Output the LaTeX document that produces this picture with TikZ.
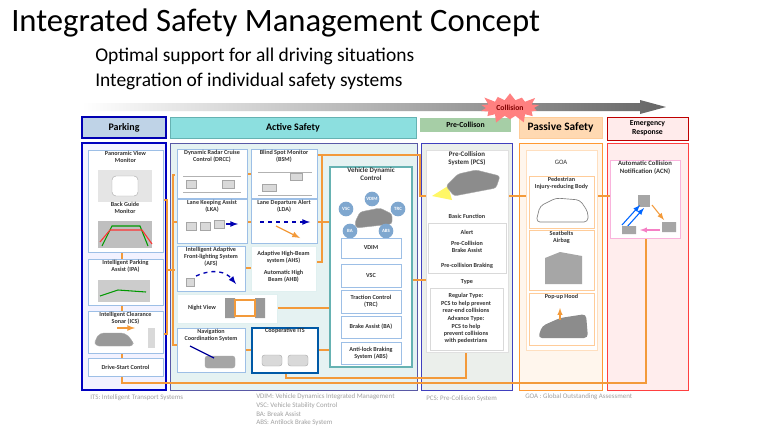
\documentclass[tikz,border=0pt]{standalone}
\usepackage{fontspec}
\setmainfont{Carlito}
\usetikzlibrary{fit,shapes.symbols,shapes.geometric}
\definecolor{orl}{HTML}{F39A3A}
\definecolor{ibx}{HTML}{9DBFE6}
\definecolor{ftg}{HTML}{A0A0A0}
\definecolor{cbl}{HTML}{7FA7CF}
\tikzset{
 fb/.style={fit={#1},inner sep=0pt,draw=ibx,line width=0.6pt,fill=white},
 lbl/.style={font=\bfseries\fontsize{4.6}{5.4}\selectfont,align=center,text=black!80,inner sep=1pt},
 hdr/.style={font=\bfseries\fontsize{7.5}{8.5}\selectfont,align=center},
 con/.style={draw=orl,line width=1.6pt},
 circ/.style={circle,fill=cbl,text=white,font=\bfseries\fontsize{3.6}{4}\selectfont,minimum size=11pt,inner sep=0pt},
 pic/.style={fill=black!15,draw=black!35,line width=0.3pt},
 foot/.style={font=\fontsize{5.2}{6}\selectfont,text=ftg,anchor=west,inner sep=0pt},
}
\begin{document}
\begin{tikzpicture}[x=0.75pt,y=-0.75pt]
\useasboundingbox (0,0) rectangle (768,432);
\fill[white] (0,0) rectangle (768,432);
% titles
\node[anchor=west,font=\fontsize{24.5}{26}\selectfont,inner sep=0] (title) at (11,23) {Integrated Safety Management Concept};
\node[anchor=west,font=\fontsize{14.6}{16}\selectfont,inner sep=0] (sub1) at (95,56) {Optimal support for all driving situations};
\node[anchor=west,font=\fontsize{14.6}{16}\selectfont,inner sep=0] (sub2) at (95,81) {Integration of individual safety systems};
% arrow bar
\shade[left color=white,right color=black!60] (82,103) -- (640,103) -- (640,100) -- (666,107) -- (640,114) -- (640,111) -- (82,111) -- cycle;
% headers
\node[fit={(82,117)(166,138)},inner sep=0,draw=blue!70!black,line width=0.8pt,fill=cbl!50] (hpark) {};
\node[hdr] at (hpark) {Parking};
\node[fit={(170,117)(416,138)},inner sep=0,draw=teal!60,fill=teal!55!cyan!45] (hact) {};
\node[hdr] at (hact) {Active Safety};
\node[fit={(519,117)(602,138)},inner sep=0,draw=orange!40,fill=orange!30] (hpas) {};
\node[hdr,font=\bfseries\fontsize{8.5}{9.5}\selectfont] at (hpas) {Passive Safety};
\node[fit={(419,117)(512,133)},inner sep=0,draw=white,line width=1pt,fill=green!45!black!35!white] (hpre) {};
\node[hdr,font=\bfseries\fontsize{5.8}{6.5}\selectfont] at (hpre) {Pre-Collison};
\node[fit={(607,117)(688,140)},inner sep=0,draw=red!75!black,line width=0.7pt,fill=red!8] (hemg) {};
\node[hdr,font=\bfseries\fontsize{5.8}{6.8}\selectfont] at (hemg) {Emergency\\Response};
\node[starburst,starburst points=14,starburst point height=7pt,fill=red!50!pink!80,draw=none,minimum width=50pt,minimum height=26pt,font=\bfseries\fontsize{5.8}{6.5}\selectfont,text=red!50!black,inner sep=0pt] (coll) at (510,108) {Collision};
% body panels
\node[fit={(82,143)(166,390)},inner sep=0,draw=blue!75!black,line width=0.8pt,fill=blue!5] (ppark) {};
\node[fit={(170,143)(417,390)},inner sep=0,draw=blue!30!gray,line width=0.6pt,fill=teal!10] (pact) {};
\node[fit={(421,143)(512,390)},inner sep=0,draw=blue!50!gray,line width=0.6pt,fill=green!20!black!8] (ppre) {};
\node[fit={(519,143)(602,390)},inner sep=0,draw=orange!80,line width=0.7pt,fill=orange!7] (ppas) {};
\node[fit={(607,143)(688,390)},inner sep=0,draw=red!75,line width=0.7pt,fill=red!7] (pemg) {};
% connectors behind boxes
\draw[con] (163,200) -- (167,200) -- (167,334) -- (163,334);
\draw[con] (167,270) -- (175,270);
\draw[con] (175,175) -- (173,175) -- (173,345) -- (177,345);
\draw[con] (173,222) -- (177,222);
\draw[con] (320,155) -- (420,155) -- (420,196) -- (426,196);
\draw[con] (317,155) -- (322,155) -- (322,262) -- (316,262);
\draw[con] (317,222) -- (330,222);
\draw[con] (247,174) -- (251,174);
\draw[con] (247,222) -- (251,222);
\draw[con] (245,268) -- (251,268);
\draw[con] (277,308) -- (330,308);
\draw[con] (318,350) -- (330,350);
\draw[con] (245,350) -- (252,350);
\draw[con] (412,280) -- (426,280);
\draw[con] (508,196) -- (526,196);
\draw[con] (597,196) -- (610,196);
\draw[con] (122,252) -- (122,259);
\draw[con] (122,305) -- (122,311);
\draw[con] (122,353) -- (122,358);
\draw[con] (122,376) -- (122,383) -- (646,383) -- (646,238);
\draw[con] (286,373) -- (286,378) -- (466,378) -- (466,352);
% parking boxes
\node[fb={(88,150)(163,252)}] (pvm) {};
\node[lbl,below] at (pvm.north) {Panoramic View\\Monitor};
\fill[black!10] (98,170) rectangle (152,202);
\draw[pic,fill=white,rounded corners=3pt] (112,176) rectangle (138,196);
\node[lbl] at (125,208) {Back Guide\\Monitor};
\fill[black!25] (98,221) rectangle (152,248);
\draw[green!60!black,line width=0.8pt] (102,246) -- (112,226) -- (140,226) -- (148,246);
\draw[red!80,line width=0.8pt] (100,242) -- (110,230) -- (142,230) -- (152,244);
\node[fb={(88,259)(163,305)}] (ipa) {};
\node[lbl,below] at (ipa.north) {Intelligent Parking\\Assist (IPA)};
\fill[black!20] (98,280) rectangle (150,302);
\draw[green!60!black,line width=0.8pt] (100,296) -- (118,290) -- (146,292);
\node[fb={(88,311)(163,353)}] (ics) {};
\node[lbl,below] at (ics.north) {Intelligent Clearance\\Sonar (ICS)};
\draw[pic,fill=black!40,rounded corners=3pt] (95,340) -- (100,333) -- (125,333) -- (132,340) -- (134,346) -- (95,346) -- cycle;
\fill[black!15] (148,328) rectangle (155,348);
\draw[-latex,orl,line width=1pt] (117,328) -- (135,328);
\node[fb={(88,358)(163,376)}] (dsc) {};
\node[lbl] at (dsc) {Drive-Start Control};
% active boxes
\node[fb={(177,149)(247,198)}] (drcc) {};
\node[lbl,below] at (drcc.north) {Dynamic Radar Cruise\\Control (DRCC)};
\draw[black!30] (183,176) -- (241,176) (183,192) -- (241,192);
\draw[pic] (186,180) rectangle (196,188) (222,180) rectangle (234,188);
\node[fb={(251,149)(317,198)}] (bsm) {};
\node[lbl,below] at (bsm.north) {Blind Spot Monitor\\(BSM)};
\draw[black!30] (258,172) -- (312,172) (258,195) -- (312,195);
\draw[pic] (290,173) rectangle (302,180) (262,184) rectangle (276,191);
\node[fb={(177,199)(247,243)}] (lka) {};
\node[lbl,below] at (lka.north) {Lane Keeping Assist\\(LKA)};
\draw[pic] (186,222) rectangle (196,230) (200,222) rectangle (210,230) (214,220) rectangle (224,228);
\draw[-latex,blue!70!black,line width=1pt] (226,224) -- (238,224);
\node[fb={(251,199)(317,243)}] (lda) {};
\node[lbl,below] at (lda.north) {Lane Departure Alert\\(LDA)};
\draw[-latex,blue!70!black,line width=1pt,dashed] (260,222) -- (310,222);
\draw[-latex,orl,line width=1pt] (276,226) -- (300,238);
\node[fb={(177,246)(245,291)}] (afs) {};
\node[lbl,below] at (afs.north) {Intelligent Adaptive\\Front-lighting System\\(AFS)};
\draw[-latex,blue!70!black,line width=1pt,dashed] (196,276) .. controls (214,268) and (226,272) .. (236,284);
\draw[pic] (186,278) rectangle (194,286);
\node[fit={(251,246)(316,291)},inner sep=0,draw=teal!12,fill=white] (ahs) {};
\node[lbl] at (283.5,257) {Adaptive High-Beam\\system (AHS)};
\node[lbl] at (283.5,276) {Automatic High\\Beam (AHB)};
\node[fit={(177,294)(277,323)},inner sep=0,draw=teal!12,fill=white] (nv) {};
\node[lbl] at (202,308) {Night View};
\fill[black!40] (225,298) rectangle (235,318) (255,298) rectangle (265,318);
\draw[orl,line width=0.8pt] (235,300) rectangle (255,316);
\node[fb={(177,328)(245,372)}] (ncs) {};
\node[lbl,below] at (ncs.north) {Navigation\\Coordination System};
\draw[pic,fill=black!35,rounded corners=2pt] (205,356) rectangle (235,368);
\draw[blue!60!black,line width=1pt] (190,346) -- (214,358);
\node[fit={(252,328)(318,373)},inner sep=0,draw=teal!70!blue,line width=1.4pt,fill=white] (cits) {};
\node[lbl,below] at (cits.north) {Cooperative ITS};
\draw[pic,rounded corners=2pt] (262,355) rectangle (282,366) (288,355) rectangle (308,366);
% VDC
\node[fit={(330,167)(412,367)},inner sep=0,draw=teal!60,line width=0.8pt,fill=white] (vdc) {};
\node[lbl,below,font=\bfseries\fontsize{5.2}{6}\selectfont] at (vdc.north) {Vehicle Dynamic\\Control};
\draw[pic,fill=black!45,rounded corners=2pt] (355,222) -- (360,212) -- (380,208) -- (392,214) -- (392,224) -- (356,228) -- cycle;
\node[circ] (cvdim) at (372,199) {VDIM};
\node[circ] (cvsc) at (346,209) {VSC};
\node[circ] (ctrc) at (398,209) {TRC};
\node[circ] (cba) at (350,231) {BA};
\node[circ] (cabs) at (386,231) {ABS};
\node[fb={(341,238)(401,258)}] (vdim) {};
\node[lbl] at (vdim) {VDIM};
\node[fb={(341,264)(401,287)}] (vsc) {};
\node[lbl] at (vsc) {VSC};
\node[fb={(341,290)(401,313)}] (trc) {};
\node[lbl] at (trc) {Traction Control\\(TRC)};
\node[fb={(341,316)(401,338)}] (ba) {};
\node[lbl] at (ba) {Brake Assist (BA)};
\node[fb={(341,342)(401,364)}] (abs) {};
\node[lbl] at (abs) {Anti-lock Braking\\System (ABS)};
% pre-collision
\node[fit={(426,150)(508,352)},inner sep=0,draw=black!12,fill=white] (pcs) {};
\node[lbl,below,font=\bfseries\fontsize{5.2}{6}\selectfont] at (pcs.north) {Pre-Collision\\System (PCS)};
\fill[yellow!60] (432,196) -- (448,186) -- (452,200) -- cycle;
\draw[pic,fill=black!45,rounded corners=2pt] (446,186) -- (458,174) -- (476,170) -- (500,176) -- (496,188) -- (454,196) -- cycle;
\node[lbl] at (467,216) {Basic Function};
\node[fit={(428,223)(506,273)},inner sep=0,draw=black!15,fill=white] (alert) {};
\node[lbl] at (467,232) {Alert};
\node[lbl] at (467,247) {Pre-Collision\\Brake Assist};
\node[lbl] at (467,266) {Pre-collision Braking};
\node[lbl] at (467,282) {Type};
\node[fit={(430,288)(503,350)},inner sep=0,draw=black!15,fill=white] (type) {};
\node[lbl] at (466,303) {Regular Type:\\PCS to help prevent\\rear-end collisions};
\node[lbl] at (466,330) {Advance Type:\\PCS to help\\prevent collisions\\with pedestrians};
% passive
\node[fit={(526,150)(597,350)},inner sep=0,draw=orange!25,fill=white] (goa) {};
\node[lbl,font=\fontsize{5}{6}\selectfont] at (561,162) {GOA};
\node[fit={(529,176)(594,228)},inner sep=0,draw=orange!40,fill=white] (ped) {};
\node[lbl,below] at (ped.north) {Pedestrian\\Injury-reducing Body};
\draw[black!50,line width=0.5pt,rounded corners=3pt] (536,222) -- (540,206) -- (556,198) -- (580,200) -- (588,212) -- (588,222) -- cycle;
\node[fit={(529,230)(594,290)},inner sep=0,draw=orange!40,fill=white] (seat) {};
\node[lbl,below] at (seat.north) {Seatbelts\\Airbag};
\fill[black!35] (545,258) -- (560,252) -- (582,256) -- (582,284) -- (545,284) -- cycle;
\node[fit={(529,293)(594,345)},inner sep=0,draw=orange!40,fill=white] (hood) {};
\node[lbl,below] at (hood.north) {Pop-up Hood};
\fill[black!45,rounded corners=3pt] (538,338) -- (542,326) -- (560,318) -- (586,314) -- (588,338) -- cycle;
\draw[-latex,orl,line width=0.8pt] (560,320) -- (560,308);
% emergency
\node[fit={(610,160)(680,238)},inner sep=0,draw=magenta!30,line width=0.7pt,fill=white] (acn) {};
\node[lbl,below,font=\bfseries\fontsize{5}{6}\selectfont] at (acn.north) {Automatic Collision\\Notification (ACN)};
\fill[black!35] (638,195) rectangle (650,207);
\draw[-latex,blue!60!cyan,line width=0.8pt] (622,225) -- (640,205);
\draw[-latex,blue!60!cyan,line width=0.8pt] (626,228) -- (644,208);
\draw[-latex,orl,line width=0.8pt] (652,205) -- (664,220);
\draw[-latex,magenta!50,line width=0.8pt] (660,230) -- (640,230);
\fill[black!35] (622,226) rectangle (636,234) (662,222) rectangle (676,232);
% footnotes
\node[foot] (f1) at (90,398) {ITS: Intelligent Transport Systems};
\node[foot] (f2) at (256,397) {VDIM: Vehicle Dynamics Integrated Management};
\node[foot] (f3) at (256,405.5) {VSC: Vehicle Stability Control};
\node[foot] (f4) at (256,414) {BA: Break Assist};
\node[foot] (f5) at (256,422.5) {ABS: Antilock Brake System};
\node[foot] (f6) at (426,399) {PCS: Pre-Collision System};
\node[foot] (f7) at (525,397) {GOA : Global Outstanding Assessment};
\end{tikzpicture}
\end{document}
